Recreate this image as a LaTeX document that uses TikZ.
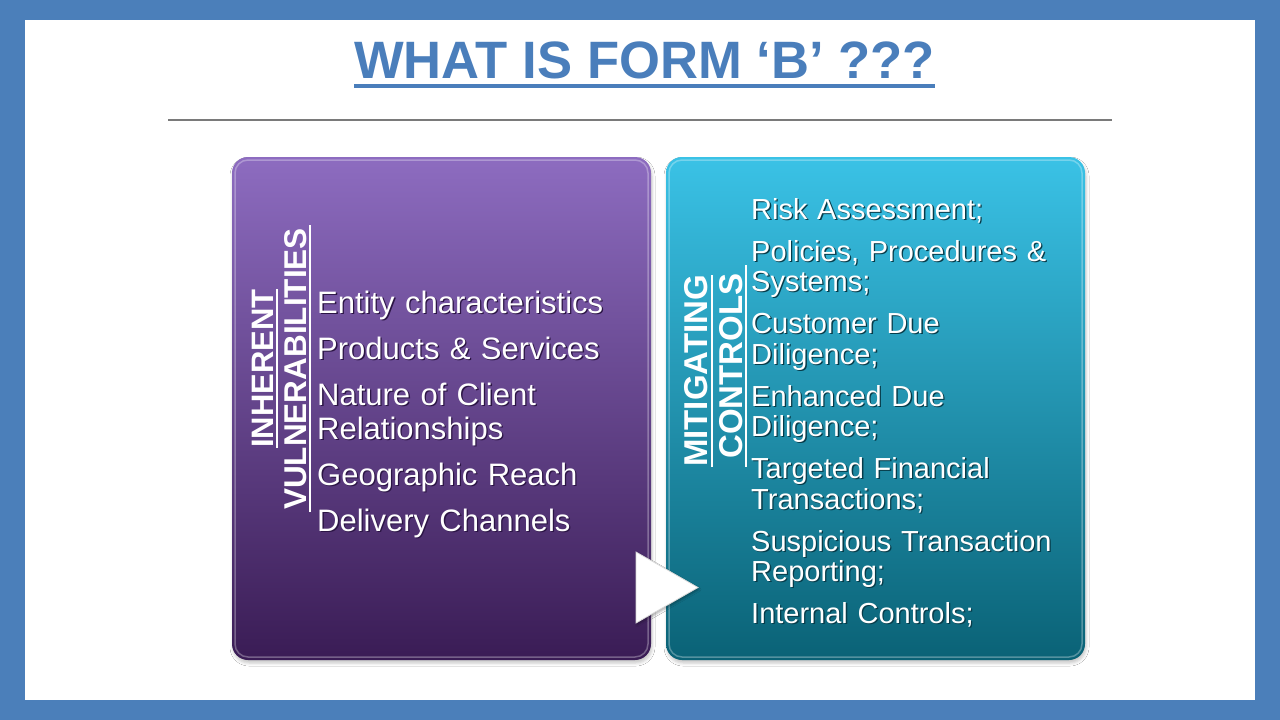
\documentclass[tikz,border=0pt]{standalone}
\usepackage{fontspec}
\setmainfont{Liberation Sans}
\usetikzlibrary{shadows.blur}
\definecolor{frameblue}{HTML}{4B7FBA}
\definecolor{titleblue}{HTML}{4A7EBB}
\definecolor{rulegray}{HTML}{7A7A7A}
\definecolor{purptop}{HTML}{8D6CC0}
\definecolor{purpmid}{HTML}{5C3A8A}
\definecolor{purpbot}{HTML}{3A1C55}
\definecolor{tealtop}{HTML}{3AC2E6}
\definecolor{tealmid}{HTML}{188EAD}
\definecolor{tealbot}{HTML}{0A6276}
\definecolor{purpshadow}{HTML}{2C1545}
\definecolor{tealshadow}{HTML}{073C4A}
\newcommand\shtxp[1]{\leavevmode\rlap{\raisebox{-1.3pt}{\kern1.3pt\textcolor{purpshadow}{#1}}}#1}
\newcommand\shtxt[1]{\leavevmode\rlap{\raisebox{-1.3pt}{\kern1.3pt\textcolor{tealshadow}{#1}}}#1}
\tikzset{
  panel/.style={rounded corners=16pt, minimum width=419pt, minimum height=503pt, inner sep=0pt,
    blur shadow={shadow xshift=1pt, shadow yshift=-3pt, shadow blur radius=3pt, shadow opacity=22}},
  purplepanel/.style={panel, top color=purptop, middle color=purpmid, bottom color=purpbot},
  tealpanel/.style={panel, top color=tealtop, middle color=tealmid, bottom color=tealbot},
  bevel/.style={draw=white, draw opacity=0.3, line width=1.5pt, rounded corners=13pt},
  itemlist/.style={anchor=base west, text=white, align=left, inner sep=0pt, text width=345pt},
  vtitle/.style={anchor=base, rotate=90, text=white, inner sep=0pt},
  vline/.style={draw=white, line width=2.2pt},
}
\begin{document}
\begin{tikzpicture}[x=1pt,y=-1pt]
\useasboundingbox (0,0) rectangle (1280,720);
% frame
\fill[frameblue] (0,0) rectangle (1280,720);
\fill[white] (25,20) rectangle (1255,700);
% title
\node[anchor=base, inner sep=0pt, text=titleblue, font=\fontsize{52.6}{60}\selectfont\bfseries] (title) at (644.5,78) {WHAT IS FORM ‘B’ ???};
\draw[titleblue, line width=4pt] ([yshift=-8pt]title.base west) -- ([yshift=-8pt]title.base east);
% rule
\coordinate (ruleL) at (168,120);
\coordinate (ruleR) at (1112,120);
\draw[rulegray, line width=2.2pt] (ruleL) -- (ruleR);
% panels
\node[purplepanel] (lbox) at (441.5,408.5) {};
\node[tealpanel] (rbox) at (875.5,408.5) {};
\draw[bevel] (235,160) rectangle (648,657);
\draw[bevel] (669,160) rectangle (1082,657);
% arrow
\fill[white, draw=black!15, line width=0.8pt,
  blur shadow={shadow xshift=1pt, shadow yshift=-2pt, shadow blur radius=2pt, shadow opacity=30}]
  (636,552) -- (698,587.5) -- (636,623) -- cycle;
% left titles
\node[vtitle, font=\fontsize{31}{34}\selectfont\bfseries] (inh) at (273,368.5) {INHERENT};
\draw[vline] ([xshift=4pt]inh.base west) -- ([xshift=4pt]inh.base east);
\node[vtitle, font=\fontsize{31.5}{34}\selectfont\bfseries] (vul) at (306,369) {VULNERABILITIES};
\draw[vline] ([xshift=4pt,yshift=-2pt]vul.base west) -- ([xshift=4pt,yshift=3pt]vul.base east);
% left list
\node[itemlist, font=\fontsize{31}{34}\selectfont] (llist) at (317,313) {%
\shtxp{Entity characteristics}\\[12pt]
\shtxp{Products \& Services}\\[12pt]
\shtxp{Nature of Client}\\
\shtxp{Relationships}\\[12pt]
\shtxp{Geographic Reach}\\[12pt]
\shtxp{Delivery Channels}};
% right titles
\node[vtitle, font=\fontsize{33}{36}\selectfont\bfseries] (mit) at (707,371) {MITIGATING};
\draw[vline] ([xshift=5pt]mit.base west) -- ([xshift=5pt]mit.base east);
\node[vtitle, font=\fontsize{33}{36}\selectfont\bfseries] (ctl) at (742,366) {CONTROLS};
\draw[vline] ([xshift=4pt,yshift=-8pt]ctl.base west) -- ([xshift=4pt,yshift=8pt]ctl.base east);
% right list
\node[itemlist, font=\fontsize{29}{30.5}\selectfont] (rlist) at (751,219) {%
\shtxt{Risk Assessment;}\\[11.5pt]
\shtxt{Policies, Procedures \&}\\
\shtxt{Systems;}\\[11.5pt]
\shtxt{Customer Due}\\
\shtxt{Diligence;}\\[11.5pt]
\shtxt{Enhanced Due}\\
\shtxt{Diligence;}\\[11.5pt]
\shtxt{Targeted Financial}\\
\shtxt{Transactions;}\\[11.5pt]
\shtxt{Suspicious Transaction}\\
\shtxt{Reporting;}\\[11.5pt]
\shtxt{Internal Controls;}};
\end{tikzpicture}
\end{document}
